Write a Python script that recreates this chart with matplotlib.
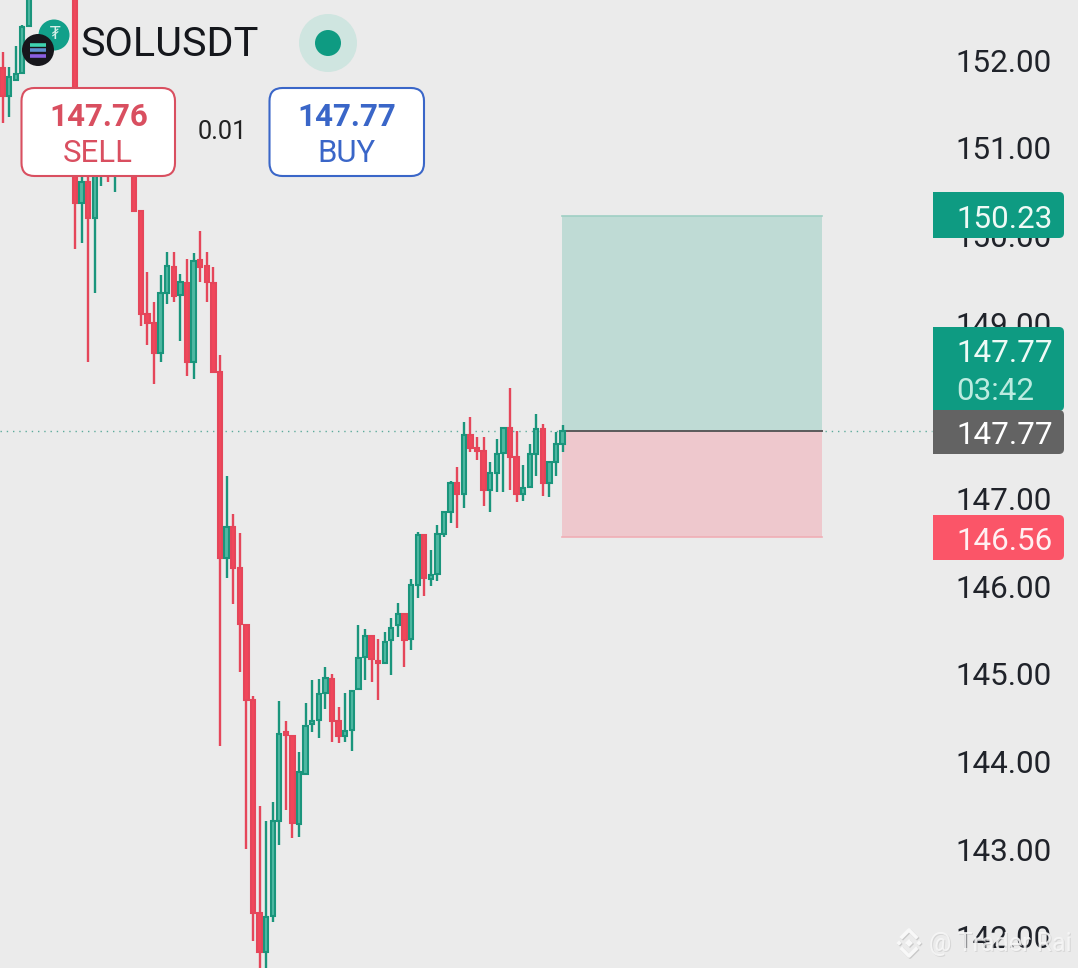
import matplotlib
matplotlib.use("Agg")
import matplotlib.pyplot as plt
from matplotlib.patches import Circle, FancyBboxPatch, Rectangle, Polygon

plt.rcParams['font.family'] = ['Roboto', 'DejaVu Sans']

# candle data
idx = [-33, -32, -31, -30, -29, -22, -21, -20, -19, -18, -17, -16, -13, -12, -11, -10, -9, -8, -7, -6,
       -5, -4, -3, -2, -1, 0, 1, 2, 3, 4, 5, 6, 7, 8, 9, 10, 11, 12, 13, 14,
       15, 16, 17, 18, 19, 20, 21, 22, 23, 24, 25, 26, 27, 28, 29, 30, 31, 32, 33, 34,
       35, 36, 37, 38, 39, 40, 41, 42, 43, 44, 45, 46, 47, 48, 49, 50, 51, 52]
opens = [151.92, 151.59, 151.78, 151.86, 152.39, 153.40, 150.37, 150.61, 150.20, 150.76, 150.99, 150.76, 151.10, 150.28, 149.11, 149.01, 148.66, 149.35, 149.65, 149.33,
         149.46, 148.56, 149.72, 149.66, 149.46, 148.45, 146.33, 146.68, 146.21, 145.56, 144.71, 142.28, 141.83, 142.24, 143.32, 144.34, 144.30, 143.29, 143.86, 144.43,
         144.48, 144.78, 144.95, 144.46, 144.29, 144.36, 144.83, 145.19, 145.43, 145.15, 145.13, 145.39, 145.56, 145.69, 145.40, 146.02, 146.59, 146.09, 146.14, 146.60,
         146.85, 147.18, 147.06, 147.73, 147.58, 147.55, 147.10, 147.29, 147.52, 147.81, 147.48, 147.05, 147.13, 147.51, 147.80, 147.18, 147.42, 147.62]
highs = [152.10, 151.93, 152.16, 152.41, 153.20, 153.60, 150.76, 150.76, 150.87, 151.10, 151.10, 151.10, 151.20, 150.28, 149.59, 149.24, 149.55, 149.82, 149.82, 149.57,
         149.74, 149.80, 150.06, 149.81, 149.64, 148.64, 147.26, 146.83, 146.61, 145.56, 144.75, 143.50, 143.32, 143.54, 144.69, 144.46, 144.30, 144.11, 144.67, 144.93,
         144.95, 145.08, 145.00, 144.63, 144.79, 144.81, 145.56, 145.52, 145.43, 145.40, 145.48, 145.64, 145.81, 145.69, 146.09, 146.62, 146.59, 146.42, 146.70, 146.86,
         147.20, 147.36, 147.88, 147.93, 147.70, 147.71, 147.42, 147.68, 147.81, 148.26, 147.77, 147.39, 147.63, 147.97, 147.85, 147.43, 147.76, 147.84]
lows = [151.29, 151.36, 151.78, 151.85, 152.39, 149.85, 149.92, 148.56, 149.35, 150.57, 150.61, 150.50, 150.28, 148.97, 148.75, 148.31, 148.56, 149.22, 149.25, 148.80,
        148.40, 148.37, 149.47, 149.24, 148.45, 144.18, 146.10, 145.80, 145.02, 143.00, 141.96, 141.58, 141.58, 142.17, 143.05, 143.45, 143.13, 143.14, 143.85, 144.34,
        144.27, 144.60, 144.23, 144.22, 144.23, 144.12, 144.83, 144.93, 144.91, 144.70, 145.13, 144.99, 145.42, 145.08, 145.28, 145.87, 145.89, 146.00, 146.06, 146.56,
        146.72, 146.67, 146.90, 147.53, 147.44, 146.92, 146.85, 147.08, 147.08, 147.10, 146.96, 146.98, 147.13, 147.26, 147.03, 147.02, 147.26, 147.53]
closes = [151.59, 151.81, 151.85, 152.38, 153.00, 150.38, 150.61, 150.20, 150.76, 150.99, 150.76, 150.99, 150.28, 149.11, 149.01, 148.66, 149.35, 149.66, 149.31, 149.47,
          148.56, 149.71, 149.65, 149.47, 148.45, 146.33, 146.68, 146.21, 145.57, 144.71, 142.28, 141.83, 142.23, 143.32, 144.32, 144.31, 143.30, 143.88, 144.41, 144.47,
          144.77, 144.96, 144.47, 144.30, 144.35, 144.81, 145.18, 145.43, 145.17, 145.13, 145.37, 145.53, 145.69, 145.39, 146.02, 146.59, 146.10, 146.13, 146.60, 146.85,
          147.18, 147.06, 147.73, 147.58, 147.55, 147.10, 147.29, 147.51, 147.81, 147.48, 147.05, 147.12, 147.51, 147.80, 147.18, 147.42, 147.62, 147.77]

# price scale and order levels
tick_prices = [152, 151, 150, 149, 147, 146, 145, 144, 143, 142]
take_profit = 150.23
entry = 147.77
stop_loss = 146.56
sell_price = "147.76"
buy_price = "147.77"
lot = "0.01"
countdown = "03:42"

BG = "#ebebeb"
GREEN = "#0e9b82"
UP_EDGE = "#1a957c"
UP_FILL = "#4fb8a2"
DOWN_EDGE = "#e5465a"
DOWN_FILL = "#f1465a"
RED_TAG = "#fb5568"
SELL_C = "#d94f60"
BUY_C = "#3a66c8"

fig = plt.figure(figsize=(10.78, 9.68), dpi=100, facecolor=BG)

# chart axes: whole figure, price on y
ax = fig.add_axes([0, 0, 1, 1], facecolor=BG)
ax.set_xlim(-33.38, 130.2)
ax.set_ylim(141.648, 152.69)
ax.axis("off")

# candles
for i, o, h, l, c in zip(idx, opens, highs, lows, closes):
    up = c >= o
    edge = UP_EDGE if up else DOWN_EDGE
    fill = UP_FILL if up else DOWN_FILL
    ax.plot([i, i], [l, h], color=edge, lw=1.7, solid_capstyle="butt", zorder=2)
    ax.add_patch(Rectangle((i - 0.33, min(o, c)), 0.66, abs(c - o), facecolor=fill, edgecolor=edge,
                           lw=1.5, zorder=3))

# position box, behind the candles
box_x0, box_x1 = 51.9, 91.3
ax.add_patch(Rectangle((box_x0, entry), box_x1 - box_x0, take_profit - entry, facecolor="#bfdbd5",
                       edgecolor="none", zorder=1.5))
ax.add_patch(Rectangle((box_x0, stop_loss), box_x1 - box_x0, entry - stop_loss, facecolor="#eec8cd",
                       edgecolor="none", zorder=1.5))
ax.plot([box_x0, box_x1], [take_profit, take_profit], color="#9fcfc4", lw=1.2, zorder=1.6)
ax.plot([box_x0, box_x1], [stop_loss, stop_loss], color="#f0aeb6", lw=1.2, zorder=1.6)
ax.plot([box_x0 + 0.4, box_x1], [entry, entry], color="#5a5a5a", lw=1.4, zorder=1.7)
ax.plot([-33.38, 108], [entry, entry], color="#3a9c88", lw=1, ls=(0, (1, 3.5)), alpha=0.8, zorder=1)

# price labels, nudged down a little to sit like the app's
for p in tick_prices:
    ax.annotate("%.2f" % p, (1003.5 / 6.59 - 33.38, p), xytext=(0, -2), textcoords="offset points",
                fontsize=22.6, color="#20232a", ha="center", va="center", zorder=6)

# overlay in pixel coordinates for the app's buttons and tags
ui = fig.add_axes([0, 0, 1, 1], facecolor="none")
ui.set_xlim(0, 1078)
ui.set_ylim(968, 0)
ui.axis("off")


def rbox(x0, y0, x1, y1, r, fc, ec="none", lw=0, z=10):
    ui.add_patch(FancyBboxPatch((x0 + r, y0 + r), x1 - x0 - 2 * r, y1 - y0 - 2 * r,
                                boxstyle="round,pad=%g,rounding_size=%g" % (r, r),
                                facecolor=fc, edgecolor=ec, lw=lw, zorder=z))


def tag(y0, y1, color, z=10):
    rbox(950, y0, 1064, y1, 5, color, z=z)
    ui.add_patch(Rectangle((933, y0), 30, y1 - y0, facecolor=color, edgecolor="none", zorder=z))


tag(192, 238, GREEN)
ui.text(1004.5, 219, "%.2f" % take_profit, color="#eefaf6", fontsize=22.6, ha="center", va="center", zorder=11)
tag(327, 411, GREEN)
ui.text(1004.5, 353, "%.2f" % entry, color="#eefaf6", fontsize=22.6, ha="center", va="center", zorder=11)
ui.text(995.5, 391, countdown, color="#bcebe0", fontsize=22.6, ha="center", va="center", zorder=11)
tag(410, 454, "#636363", z=10.5)
ui.text(1004.5, 435, "%.2f" % entry, color="white", fontsize=22.6, ha="center", va="center", zorder=11)
tag(515, 560, RED_TAG)
ui.text(1004.5, 541, "%.2f" % stop_loss, color="#fff0f2", fontsize=22.6, ha="center", va="center", zorder=11)

# sell / buy buttons
rbox(21.5, 88, 175, 176, 13, "white", SELL_C, 1.5)
ui.text(98.5, 117, sell_price, color=SELL_C, fontsize=22.6, fontweight="bold", ha="center", va="center", zorder=11)
ui.text(98, 153, "SELL", color=SELL_C, fontsize=22.4, ha="center", va="center", zorder=11)
rbox(269.5, 88, 424, 176, 13, "white", BUY_C, 1.5)
ui.text(347, 117, buy_price, color=BUY_C, fontsize=22.6, fontweight="bold", ha="center", va="center", zorder=11)
ui.text(346.5, 153, "BUY", color=BUY_C, fontsize=22.4, ha="center", va="center", zorder=11)
ui.text(222, 132, lot, color="#222222", fontsize=18.3, ha="center", va="center", zorder=11)

# symbol header
ui.add_patch(Circle((54, 35), 15.5, facecolor="#12a08a", edgecolor="none", zorder=8))
ui.text(55, 34, "₮", color="#d8efe9", fontsize=12, ha="center", va="center", zorder=8.5, family="DejaVu Sans")
ui.add_patch(Circle((38, 50), 16, facecolor="#17171c", edgecolor="none", zorder=9))
for yy, col in [(44.5, "#3fd3b0"), (50, "#5f8fd0"), (55.5, "#8a5fe0")]:
    ui.plot([30, 46], [yy, yy], color=col, lw=2.6, solid_capstyle="butt", zorder=9.5)
ui.text(80.5, 44, "SOLUSDT", color="#15171c", fontsize=29.8, ha="left", va="center", zorder=11)
ui.add_patch(Circle((328, 43), 29, facecolor="#cfe5e0", edgecolor="none", zorder=8))
ui.add_patch(Circle((328, 43), 13, facecolor=GREEN, edgecolor="none", zorder=9))

# watermark: binance style logo and name with a soft shadow
for dx, dy, col, z, a in [(1, 1, "#c9c9c9", 12, 0.6), (0, 0, "#f8f8f8", 12.5, 0.85)]:
    for cx, cy, r in [(909, 943, 4), (899, 943, 2.6), (919, 943, 2.6)]:
        ui.add_patch(Polygon([(cx + dx, cy - r + dy), (cx + r + dx, cy + dy), (cx + dx, cy + r + dy), (cx - r + dx, cy + dy)],
                             closed=True, facecolor=col, edgecolor="none", zorder=z))
    ui.plot([902 + dx, 909 + dx, 916 + dx], [937 + dy, 930 + dy, 937 + dy], color=col, lw=2.6, zorder=z)
    ui.plot([902 + dx, 909 + dx, 916 + dx], [949 + dy, 956 + dy, 949 + dy], color=col, lw=2.6, zorder=z)
    ui.text(929 + dx, 944 + dy, "@ Trader Rai", color=col, alpha=a, fontsize=18, ha="left", va="center", zorder=z)

fig.savefig("out.png", dpi=100, facecolor=BG)
